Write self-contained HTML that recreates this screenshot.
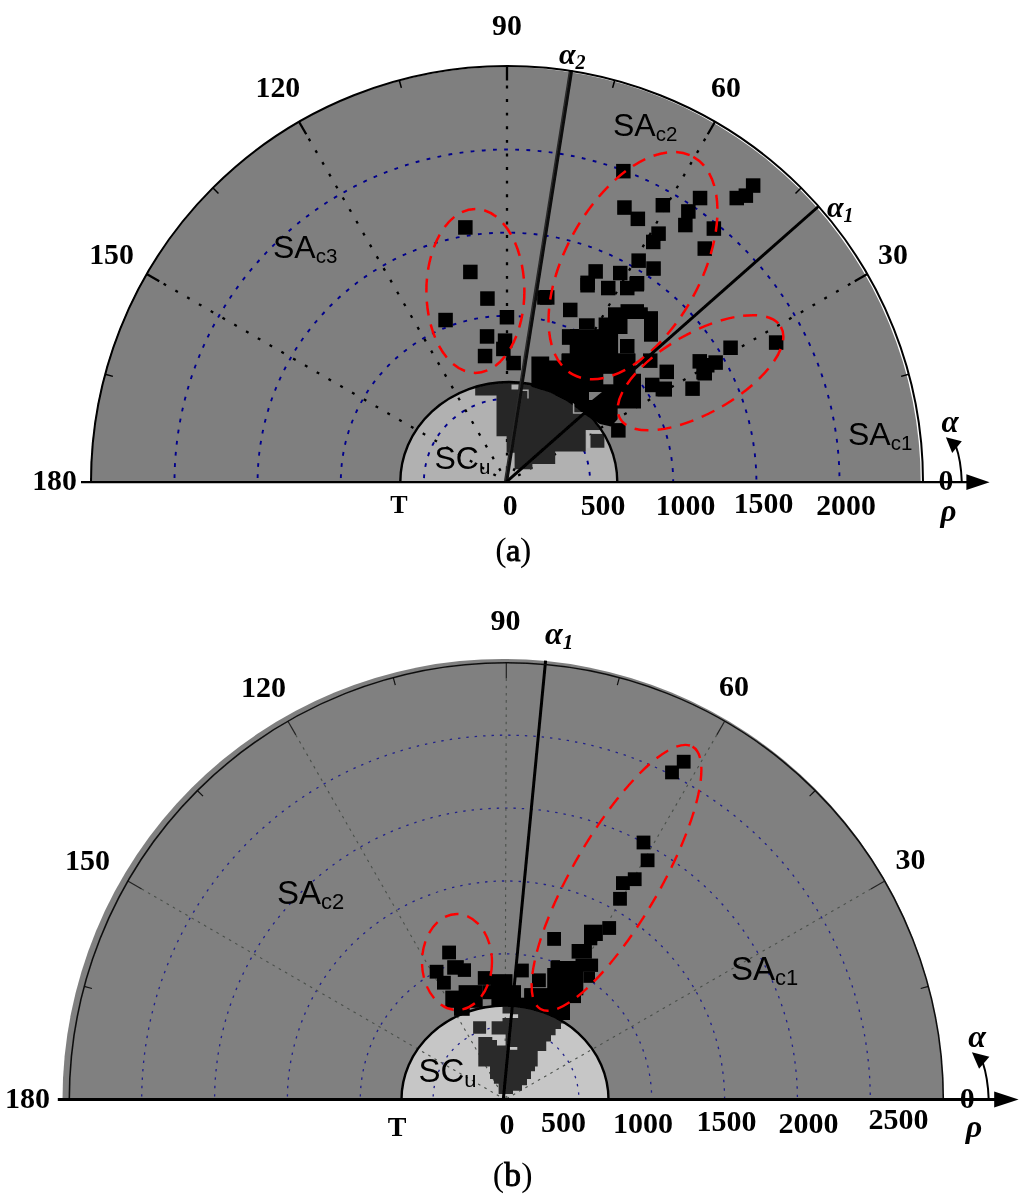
<!DOCTYPE html>
<html><head><meta charset="utf-8"><title>Polar plots</title>
<style>
html,body{margin:0;padding:0;background:#fff;}
body{width:1024px;height:1200px;overflow:hidden;}
svg{display:block;}
.tb{font-family:"Liberation Serif","Times New Roman",serif;font-weight:bold;fill:#000;}
.tbi{font-family:"Liberation Serif","Times New Roman",serif;font-weight:bold;font-style:italic;fill:#000;}
.cap{font-family:"Liberation Serif","Times New Roman",serif;fill:#000;}
.ar{font-family:"Liberation Sans",Arial,sans-serif;fill:#000;}
</style></head><body>
<svg width="1024" height="1200" viewBox="0 0 1024 1200">
<defs><filter id="soft" x="0" y="0" width="1024" height="1200" filterUnits="userSpaceOnUse"><feGaussianBlur stdDeviation="0.45"/></filter></defs>
<rect width="1024" height="1200" fill="#fff"/>
<g filter="url(#soft)">

<g id="plotA">
<path d="M90.3,482.0 A415.2,415.2 0 0 1 920.7,482.0 Z" fill="#7f7f7f"/>
<path d="M400.3,482.0 A108.5,100.0 0 0 1 617.3,482.0 Z" fill="#b1b1b1"/>
<clipPath id="clipA"><path d="M400.3,482.0 A108.5,100.0 0 0 1 617.3,482.0 Z"/></clipPath>
<path d="M423.9,482.0 A83.1,83.1 0 0 1 590.1,482.0" fill="none" stroke="#00008b" stroke-width="1.9" stroke-dasharray="3.8 7.4" stroke-dashoffset="-4"/>
<path d="M340.8,482.0 A166.2,166.2 0 0 1 673.2,482.0" fill="none" stroke="#00008b" stroke-width="1.9" stroke-dasharray="3.8 7.4" stroke-dashoffset="-4"/>
<path d="M257.6,482.0 A249.4,249.4 0 0 1 756.4,482.0" fill="none" stroke="#00008b" stroke-width="1.9" stroke-dasharray="3.8 7.4" stroke-dashoffset="-4"/>
<path d="M174.5,482.0 A332.5,332.5 0 0 1 839.5,482.0" fill="none" stroke="#00008b" stroke-width="1.9" stroke-dasharray="3.8 7.4" stroke-dashoffset="-4"/>
<line x1="867.3" y1="274.0" x2="507.0" y2="482.0" stroke="#000" stroke-width="2.3" stroke-dasharray="14.5 5 2.9 10.7 2.9 10.7 2.9 10.7 2.9 10.7 2.9 10.7 2.9 10.7 2.9 10.7 2.9 10.7 2.9 10.7 2.9 10.7 2.9 10.7 2.9 10.7 2.9 10.7 2.9 10.7 2.9 10.7 2.9 10.7 2.9 10.7 2.9 10.7 2.9 10.7 2.9 10.7 2.9 10.7 2.9 10.7 2.9 10.7 2.9 10.7 2.9 10.7 2.9 10.7 2.9 10.7 2.9 10.7 2.9 10.7 2.9 10.7 3.2 1000"/>
<line x1="715.0" y1="121.7" x2="507.0" y2="482.0" stroke="#000" stroke-width="2.3" stroke-dasharray="14.5 5 2.9 10.7 2.9 10.7 2.9 10.7 2.9 10.7 2.9 10.7 2.9 10.7 2.9 10.7 2.9 10.7 2.9 10.7 2.9 10.7 2.9 10.7 2.9 10.7 2.9 10.7 2.9 10.7 2.9 10.7 2.9 10.7 2.9 10.7 2.9 10.7 2.9 10.7 2.9 10.7 2.9 10.7 2.9 10.7 2.9 10.7 2.9 10.7 2.9 10.7 2.9 10.7 2.9 10.7 2.9 10.7 2.9 10.7 2.9 10.7 3.2 1000"/>
<line x1="507.0" y1="66.0" x2="507.0" y2="482.0" stroke="#000" stroke-width="2.3" stroke-dasharray="14.5 5 2.9 10.7 2.9 10.7 2.9 10.7 2.9 10.7 2.9 10.7 2.9 10.7 2.9 10.7 2.9 10.7 2.9 10.7 2.9 10.7 2.9 10.7 2.9 10.7 2.9 10.7 2.9 10.7 2.9 10.7 2.9 10.7 2.9 10.7 2.9 10.7 2.9 10.7 2.9 10.7 2.9 10.7 2.9 10.7 2.9 10.7 2.9 10.7 2.9 10.7 2.9 10.7 2.9 10.7 2.9 10.7 2.9 10.7 2.9 10.7 3.2 1000"/>
<line x1="299.0" y1="121.7" x2="507.0" y2="482.0" stroke="#000" stroke-width="2.3" stroke-dasharray="14.5 5 2.9 10.7 2.9 10.7 2.9 10.7 2.9 10.7 2.9 10.7 2.9 10.7 2.9 10.7 2.9 10.7 2.9 10.7 2.9 10.7 2.9 10.7 2.9 10.7 2.9 10.7 2.9 10.7 2.9 10.7 2.9 10.7 2.9 10.7 2.9 10.7 2.9 10.7 2.9 10.7 2.9 10.7 2.9 10.7 2.9 10.7 2.9 10.7 2.9 10.7 2.9 10.7 2.9 10.7 2.9 10.7 2.9 10.7 2.9 10.7 3.2 1000"/>
<line x1="146.7" y1="274.0" x2="507.0" y2="482.0" stroke="#000" stroke-width="2.3" stroke-dasharray="14.5 5 2.9 10.7 2.9 10.7 2.9 10.7 2.9 10.7 2.9 10.7 2.9 10.7 2.9 10.7 2.9 10.7 2.9 10.7 2.9 10.7 2.9 10.7 2.9 10.7 2.9 10.7 2.9 10.7 2.9 10.7 2.9 10.7 2.9 10.7 2.9 10.7 2.9 10.7 2.9 10.7 2.9 10.7 2.9 10.7 2.9 10.7 2.9 10.7 2.9 10.7 2.9 10.7 2.9 10.7 2.9 10.7 2.9 10.7 2.9 10.7 3.2 1000"/>
<line x1="908.8" y1="374.3" x2="901.1" y2="376.4" stroke="#000" stroke-width="1.5"/>
<line x1="801.2" y1="187.8" x2="795.5" y2="193.5" stroke="#000" stroke-width="1.5"/>
<line x1="614.7" y1="80.2" x2="612.6" y2="87.9" stroke="#000" stroke-width="1.5"/>
<line x1="399.3" y1="80.2" x2="401.4" y2="87.9" stroke="#000" stroke-width="1.5"/>
<line x1="212.8" y1="187.8" x2="218.5" y2="193.5" stroke="#000" stroke-width="1.5"/>
<line x1="105.2" y1="374.3" x2="112.9" y2="376.4" stroke="#000" stroke-width="1.5"/>
<g clip-path="url(#clipA)">
<polygon points="475.2,380 475.2,395.6 496.5,395.6 496.5,436.3 506.6,436.3 506.6,452.7 514.6,452.7 514.6,469.2 532.4,469.2 532.4,464.1 555.2,464.1 555.2,451.4 585.7,451.4 585.7,433.8 604.4,433.8 604.4,447.7 590.5,447.7 590.5,433.8 585.7,433.8 585.7,430 630,430 630,380" fill="#262626"/>
<rect x="586.2" y="431.2" width="18" height="2.4" fill="#b8b8b8"/>
<rect x="587" y="431.2" width="2.6" height="17" fill="#b8b8b8"/>
<rect x="511.5" y="384.5" width="7" height="5" fill="#b0b0b0"/>
<path d="M519,390.2 H528 V398.5" fill="none" stroke="#a8a8a8" stroke-width="1.4"/>
</g>
<rect x="458.1" y="220.2" width="14.5" height="14.5" fill="#000"/>
<rect x="463.1" y="264.7" width="14.5" height="14.5" fill="#000"/>
<rect x="480.2" y="291.3" width="14.5" height="14.5" fill="#000"/>
<rect x="438.3" y="312.8" width="14.5" height="14.5" fill="#000"/>
<rect x="499.7" y="310.0" width="14.5" height="14.5" fill="#000"/>
<rect x="479.8" y="329.2" width="14.5" height="14.5" fill="#000"/>
<rect x="497.8" y="333.4" width="14.5" height="14.5" fill="#000"/>
<rect x="496.1" y="341.7" width="14.5" height="14.5" fill="#000"/>
<rect x="477.8" y="348.8" width="14.5" height="14.5" fill="#000"/>
<rect x="506.4" y="355.8" width="14.5" height="14.5" fill="#000"/>
<rect x="537.2" y="290.2" width="14.5" height="14.5" fill="#000"/>
<rect x="563.0" y="302.7" width="14.5" height="14.5" fill="#000"/>
<rect x="616.1" y="163.9" width="14.5" height="14.5" fill="#000"/>
<rect x="617.2" y="200.3" width="14.5" height="14.5" fill="#000"/>
<rect x="630.6" y="211.6" width="14.5" height="14.5" fill="#000"/>
<rect x="655.6" y="198.0" width="14.5" height="14.5" fill="#000"/>
<rect x="651.3" y="226.4" width="14.5" height="14.5" fill="#000"/>
<rect x="646.0" y="234.7" width="14.5" height="14.5" fill="#000"/>
<rect x="681.1" y="204.2" width="14.5" height="14.5" fill="#000"/>
<rect x="678.1" y="217.8" width="14.5" height="14.5" fill="#000"/>
<rect x="692.8" y="190.8" width="14.5" height="14.5" fill="#000"/>
<rect x="697.5" y="241.3" width="14.5" height="14.5" fill="#000"/>
<rect x="631.4" y="253.4" width="14.5" height="14.5" fill="#000"/>
<rect x="646.3" y="261.3" width="14.5" height="14.5" fill="#000"/>
<rect x="613.0" y="265.8" width="14.5" height="14.5" fill="#000"/>
<rect x="588.4" y="264.2" width="14.5" height="14.5" fill="#000"/>
<rect x="580.3" y="275.6" width="14.5" height="14.5" fill="#000"/>
<rect x="629.8" y="276.0" width="14.5" height="14.5" fill="#000"/>
<rect x="706.6" y="221.3" width="14.5" height="14.5" fill="#000"/>
<rect x="745.9" y="178.3" width="14.5" height="14.5" fill="#000"/>
<rect x="738.6" y="188.4" width="14.5" height="14.5" fill="#000"/>
<rect x="729.5" y="190.8" width="14.5" height="14.5" fill="#000"/>
<rect x="768.9" y="335.3" width="14.5" height="14.5" fill="#000"/>
<rect x="723.3" y="340.5" width="14.5" height="14.5" fill="#000"/>
<rect x="692.5" y="354.1" width="14.5" height="14.5" fill="#000"/>
<rect x="708.4" y="355.3" width="14.5" height="14.5" fill="#000"/>
<rect x="696.3" y="365.0" width="14.5" height="14.5" fill="#000"/>
<rect x="700.0" y="358.0" width="14.5" height="14.5" fill="#000"/>
<rect x="685.3" y="381.4" width="14.5" height="14.5" fill="#000"/>
<rect x="659.5" y="364.6" width="14.5" height="14.5" fill="#000"/>
<rect x="657.5" y="381.9" width="14.5" height="14.5" fill="#000"/>
<rect x="601.0" y="280.8" width="14.5" height="14.5" fill="#000"/>
<rect x="620.0" y="280.8" width="14.5" height="14.5" fill="#000"/>
<rect x="629.5" y="277.0" width="14.5" height="14.5" fill="#000"/>
<rect x="580.3" y="278.0" width="14.5" height="14.5" fill="#000"/>
<rect x="645.0" y="377.7" width="14.5" height="14.5" fill="#000"/>
<rect x="611.1" y="423.1" width="14.5" height="14.5" fill="#000"/>
<rect x="643.0" y="353.4" width="14.5" height="14.5" fill="#000"/>
<rect x="620.0" y="339.0" width="14.5" height="14.5" fill="#000"/>
<rect x="697.5" y="366.0" width="14.5" height="14.5" fill="#000"/>
<rect x="540.0" y="290.2" width="14.5" height="14.5" fill="#000"/>
<polygon points="531.4,356.4 549.2,356.4 549.2,360.5 561.5,360.5 561.5,353.7 635.3,353.7 635.3,373.8 641,373.8 641,408.4 617.6,408.4 617.6,419.3 611,426.5 600,424 584.5,414.5 577.5,408.7 565.8,400.5 549.4,392.3 531.4,386.8" fill="#000"/>
<rect x="561.9" y="329.2" width="17.1" height="15.6" fill="#000"/>
<rect x="579.0" y="318.3" width="15.7" height="10.9" fill="#000"/>
<rect x="569.7" y="329.2" width="48.4" height="25.8" fill="#000"/>
<rect x="598.6" y="317.5" width="28.9" height="16.5" fill="#000"/>
<rect x="608.0" y="307.3" width="39.8" height="11.7" fill="#000"/>
<rect x="620.5" y="304.2" width="23.5" height="7.0" fill="#000"/>
<rect x="644.0" y="311.2" width="14.0" height="30.5" fill="#000"/>
<rect x="561.9" y="353.4" width="50.0" height="23.6" fill="#000"/>
<rect x="614.2" y="353.4" width="21.1" height="20.4" fill="#000"/>
<rect x="655.6" y="381.6" width="16.4" height="14.8" fill="#000"/>
<rect x="603.3" y="373.8" width="10" height="10.5" fill="#7f7f7f"/>
<polygon points="589,392 602,392 592,400 589,400" fill="#7f7f7f"/>
<path d="M573.6,402.5 V413 H583" fill="none" stroke="#a0a0a0" stroke-width="1.5"/>
<path d="M400.3,482.0 A108.5,100.0 0 0 1 617.3,482.0" fill="none" stroke="#000" stroke-width="2.4"/>
<ellipse cx="475.4" cy="290.9" rx="49" ry="82" stroke="#ff0000" stroke-width="2.5" fill="none" stroke-dasharray="14 9"/>
<ellipse cx="0" cy="0" rx="124.4" ry="67.6" transform="translate(633,265.6) rotate(-61)" stroke="#ff0000" stroke-width="2.5" fill="none" stroke-dasharray="14 9"/>
<ellipse cx="0" cy="0" rx="92.6" ry="40" transform="translate(700.5,372.75) rotate(-29.7)" stroke="#ff0000" stroke-width="2.5" fill="none" stroke-dasharray="14 9"/>
<line x1="506.4" y1="482" x2="571.5" y2="70.3" stroke="#0a0a0a" stroke-width="3.4"/>
<line x1="504.6" y1="482" x2="569.7" y2="70.3" stroke="#2a2a2a" stroke-width="1.6"/>
<line x1="506.4" y1="482" x2="818.4" y2="206.5" stroke="#000" stroke-width="3"/>
<path d="M91.0,482.0 A416.0,416.0 0 0 1 923.0,482.0" fill="none" stroke="#000" stroke-width="2"/>
<line x1="81" y1="482.2" x2="968" y2="482.2" stroke="#000" stroke-width="2.2"/>
<polygon points="966.4,474.3 989.6,482.2 966.4,490.1" fill="#000"/>
<path d="M961.8,482 Q961,460 955.8,446" fill="none" stroke="#000" stroke-width="2"/>
<polygon points="945.9,437.2 961.8,441.3 952.2,453" fill="#000"/>
<text x="507" y="35" class="tb" font-size="29.8" text-anchor="middle" >90</text>
<text x="277.9" y="97.2" class="tb" font-size="29.8" text-anchor="middle" >120</text>
<text x="726" y="97" class="tb" font-size="29.8" text-anchor="middle" >60</text>
<text x="111.5" y="264" class="tb" font-size="29.8" text-anchor="middle" >150</text>
<text x="893" y="264" class="tb" font-size="29.8" text-anchor="middle" >30</text>
<text x="54.5" y="490" class="tb" font-size="29.8" text-anchor="middle" >180</text>
<text x="946" y="490" class="tb" font-size="29.8" text-anchor="middle" >0</text>
<text x="399" y="513" class="tb" font-size="26" text-anchor="middle" >T</text>
<text x="510.3" y="515" class="tb" font-size="29.8" text-anchor="middle" >0</text>
<text x="603" y="515" class="tb" font-size="29.8" text-anchor="middle" >500</text>
<text x="685.5" y="515" class="tb" font-size="29.8" text-anchor="middle" >1000</text>
<text x="763.5" y="513" class="tb" font-size="29.8" text-anchor="middle" >1500</text>
<text x="846" y="515" class="tb" font-size="29.8" text-anchor="middle" >2000</text>
<text x="950" y="432" class="tbi" font-size="31" text-anchor="middle" >α</text>
<text x="948.5" y="521" class="tbi" font-size="31" text-anchor="middle" >ρ</text>
<text x="827" y="217" class="tbi" font-size="30">α<tspan font-size="20" dy="5">1</tspan></text>
<text x="559" y="63.5" class="tbi" font-size="30">α<tspan font-size="20" dy="5">2</tspan></text>
<text x="273" y="258.2" class="ar" font-size="32">SA<tspan font-size="20.5" dy="5">c3</tspan></text>
<text x="613" y="136" class="ar" font-size="32">SA<tspan font-size="20.5" dy="5">c2</tspan></text>
<text x="848" y="444.5" class="ar" font-size="32">SA<tspan font-size="20.5" dy="5">c1</tspan></text>
<text x="434.5" y="468.7" class="ar" font-size="32">SC<tspan font-size="20.5" dy="5">u</tspan></text>
<text x="513" y="561.3" class="cap" font-size="34" text-anchor="middle" letter-spacing="-0.5">(<tspan font-size="32.5" stroke="#000" stroke-width="0.9">a</tspan>)</text>
</g>
<g id="plotB">
<path d="M62.5,1099.5 A440.5,440.5 0 0 1 943.5,1099.5 Z" fill="#808080" transform="translate(0,0)"/>
<path d="M401.5,1099.5 A103.5,94.0 0 0 1 608.5,1099.5 Z" fill="#c6c6c6"/>
<clipPath id="clipB"><path d="M401.5,1099.5 A103.5,94.0 0 0 1 608.5,1099.5 Z"/></clipPath>
<path d="M433.1,1099.5 A72.9,72.9 0 0 1 578.9,1099.5" fill="none" stroke="#20208a" stroke-width="1.3" stroke-dasharray="2.4 6" stroke-dashoffset="-3"/>
<path d="M360.3,1099.5 A145.7,145.7 0 0 1 651.7,1099.5" fill="none" stroke="#20208a" stroke-width="1.3" stroke-dasharray="2.4 6" stroke-dashoffset="-3"/>
<path d="M287.4,1099.5 A218.6,218.6 0 0 1 724.6,1099.5" fill="none" stroke="#20208a" stroke-width="1.3" stroke-dasharray="2.4 6" stroke-dashoffset="-3"/>
<path d="M214.60000000000002,1099.5 A291.4,291.4 0 0 1 797.4,1099.5" fill="none" stroke="#20208a" stroke-width="1.3" stroke-dasharray="2.4 6" stroke-dashoffset="-3"/>
<path d="M141.7,1099.5 A364.3,364.3 0 0 1 870.3,1099.5" fill="none" stroke="#20208a" stroke-width="1.3" stroke-dasharray="2.4 6" stroke-dashoffset="-3"/>
<line x1="884.8" y1="881.0" x2="870.9" y2="889.0" stroke="#222" stroke-width="1.2"/>
<line x1="870.9" y1="889.0" x2="505.0" y2="1099.5" stroke="#4a4f4a" stroke-width="1.1" stroke-dasharray="2.6 4.6"/>
<line x1="724.8" y1="721.0" x2="716.8" y2="734.9" stroke="#222" stroke-width="1.2"/>
<line x1="716.8" y1="734.9" x2="505.0" y2="1099.5" stroke="#4a4f4a" stroke-width="1.1" stroke-dasharray="2.6 4.6"/>
<line x1="506.3" y1="662.5" x2="506.3" y2="678.5" stroke="#222" stroke-width="1.2"/>
<line x1="506.3" y1="678.5" x2="505.0" y2="1099.5" stroke="#4a4f4a" stroke-width="1.1" stroke-dasharray="2.6 4.6"/>
<line x1="287.8" y1="721.0" x2="295.8" y2="734.9" stroke="#222" stroke-width="1.2"/>
<line x1="295.8" y1="734.9" x2="505.0" y2="1099.5" stroke="#4a4f4a" stroke-width="1.1" stroke-dasharray="2.6 4.6"/>
<line x1="127.8" y1="881.0" x2="141.7" y2="889.0" stroke="#222" stroke-width="1.2"/>
<line x1="141.7" y1="889.0" x2="505.0" y2="1099.5" stroke="#4a4f4a" stroke-width="1.1" stroke-dasharray="2.6 4.6"/>
<line x1="928.4" y1="986.4" x2="920.7" y2="988.5" stroke="#111" stroke-width="1.2"/>
<line x1="815.3" y1="790.5" x2="809.6" y2="796.2" stroke="#111" stroke-width="1.2"/>
<line x1="619.4" y1="677.4" x2="617.3" y2="685.1" stroke="#111" stroke-width="1.2"/>
<line x1="393.2" y1="677.4" x2="395.3" y2="685.1" stroke="#111" stroke-width="1.2"/>
<line x1="197.3" y1="790.5" x2="203.0" y2="796.2" stroke="#111" stroke-width="1.2"/>
<line x1="84.2" y1="986.4" x2="91.9" y2="988.5" stroke="#111" stroke-width="1.2"/>
<g clip-path="url(#clipB)">
<polygon points="502.5,1000 575,1000 575,1023.6 561,1023.6 561,1029 555.6,1029 555.6,1035.3 551,1035.3 551,1041.6 546.25,1041.6 546.25,1051 537.7,1051 537.7,1066.6 535,1066.6 535,1071.25 531,1071.25 531,1079 527,1079 527,1085.3 522,1085.3 522,1090.8 513,1090.8 513,1093.9 498.6,1093.9 498.6,1083.75 493.9,1083.75 493.9,1079 490,1079 490,1066.6 478.3,1066.6 478.3,1036.9 492.3,1036.9 492.3,1040 497,1040 497,1045.5 505.6,1045.5 505.6,1034.5 491.6,1034.5 491.6,1021.25 502.5,1021.25 502.5,1018.1 518.1,1018.1 518.1,1014.2 510.3,1014.2 510.3,1013.4 502.5,1013.4" fill="#2c2c2c"/>
<rect x="473.1" y="1021.25" width="13" height="12.5" fill="#2c2c2c"/>
<rect x="510" y="1047" width="7.3" height="2.8" fill="#c6c6c6"/>
</g>
<rect x="442.2" y="945.6" width="13.8" height="13.8" fill="#000"/>
<rect x="429.7" y="964.8" width="13.8" height="13.8" fill="#000"/>
<rect x="437.0" y="975.8" width="13.8" height="13.8" fill="#000"/>
<rect x="477.8" y="971.1" width="13.8" height="13.8" fill="#000"/>
<rect x="547.2" y="932.0" width="13.8" height="13.8" fill="#000"/>
<rect x="676.8" y="754.8" width="13.8" height="13.8" fill="#000"/>
<rect x="665.1" y="765.5" width="13.8" height="13.8" fill="#000"/>
<rect x="636.6" y="835.6" width="13.8" height="13.8" fill="#000"/>
<rect x="640.7" y="853.4" width="13.8" height="13.8" fill="#000"/>
<rect x="627.8" y="872.3" width="13.8" height="13.8" fill="#000"/>
<rect x="616.0" y="876.2" width="13.8" height="13.8" fill="#000"/>
<rect x="613.1" y="891.9" width="13.8" height="13.8" fill="#000"/>
<rect x="602.3" y="921.1" width="13.8" height="13.8" fill="#000"/>
<rect x="532.0" y="973.4" width="13.8" height="13.8" fill="#000"/>
<rect x="515.0" y="963.6" width="13.8" height="13.8" fill="#000"/>
<clipPath id="outB"><path clip-rule="evenodd" d="M0,600 H1024 V1200 H0 Z M401.5,1099.5 A103.5,94.0 0 0 1 608.5,1099.5 Z"/></clipPath>
<g clip-path="url(#outB)">
<rect x="447.2" y="960.2" width="16.6" height="14.5" fill="#000"/>
<rect x="457.8" y="963.3" width="13.2" height="13.6" fill="#000"/>
<rect x="445.3" y="990.6" width="14.1" height="17.2" fill="#000"/>
<rect x="458.6" y="985.2" width="24.2" height="22.6" fill="#000"/>
<rect x="490.6" y="974.2" width="21.9" height="33.6" fill="#000"/>
<rect x="482.8" y="985.2" width="38.2" height="22.6" fill="#000"/>
<rect x="524.2" y="988.3" width="35.8" height="21.1" fill="#000"/>
<rect x="547.7" y="968.0" width="12.3" height="21.0" fill="#000"/>
<rect x="551.2" y="960.2" width="8.8" height="8.5" fill="#000"/>
<rect x="584.0" y="924.7" width="18.8" height="16.3" fill="#000"/>
<rect x="584.0" y="941.0" width="13.3" height="4.3" fill="#000"/>
<rect x="571.6" y="944.0" width="20.3" height="14.6" fill="#000"/>
<rect x="575.5" y="958.6" width="22.6" height="13.3" fill="#000"/>
<rect x="550.5" y="961.0" width="32.8" height="34.3" fill="#000"/>
<rect x="583.3" y="971.9" width="11.7" height="10.9" fill="#000"/>
<rect x="547.3" y="968.0" width="3.7" height="25.8" fill="#000"/>
<rect x="524.7" y="988.3" width="56.3" height="14.8" fill="#000"/>
<rect x="520.0" y="997.7" width="50.0" height="22.3" fill="#000"/>
<rect x="482.8" y="1005.0" width="47.2" height="7.0" fill="#000"/>
</g>
<rect x="454.0" y="1005.6" width="15.7" height="10.2" fill="#000"/>
<rect x="482.8" y="999.2" width="8.6" height="7" fill="#808080"/>
<path d="M401.5,1099.5 A103.5,94.0 0 0 1 608.5,1099.5" fill="none" stroke="#000" stroke-width="2.4"/>
<ellipse cx="457" cy="962" rx="35" ry="48" stroke="#ff0000" stroke-width="2.4" fill="none" stroke-dasharray="14 9"/>
<ellipse cx="0" cy="0" rx="151.6" ry="43.6" transform="translate(616.5,877.8) rotate(-59.9)" stroke="#ff0000" stroke-width="2.4" fill="none" stroke-dasharray="14 9"/>
<line x1="503.3" y1="1099.5" x2="545.6" y2="660.6" stroke="#000" stroke-width="3"/>
<path d="M69.30000000000001,1099.5 A437.0,437.0 0 0 1 943.3,1099.5" fill="none" stroke="#111" stroke-width="1.6"/>
<line x1="57.8" y1="1099.5" x2="996" y2="1099.5" stroke="#000" stroke-width="3"/>
<polygon points="994.2,1091.5 1018.6,1099.5 994.2,1107.5" fill="#000"/>
<path d="M988.7,1099.5 Q988,1078 982.6,1062" fill="none" stroke="#000" stroke-width="2"/>
<polygon points="971.9,1052.2 989.4,1056.7 979.1,1068.8" fill="#000"/>
<text x="505.5" y="629.5" class="tb" font-size="30" text-anchor="middle" >90</text>
<text x="263.5" y="697" class="tb" font-size="30" text-anchor="middle" >120</text>
<text x="734" y="696" class="tb" font-size="30" text-anchor="middle" >60</text>
<text x="87.5" y="870" class="tb" font-size="30" text-anchor="middle" >150</text>
<text x="910.5" y="868.5" class="tb" font-size="30" text-anchor="middle" >30</text>
<text x="27.5" y="1108" class="tb" font-size="30" text-anchor="middle" >180</text>
<text x="967.3" y="1108" class="tb" font-size="30" text-anchor="middle" >0</text>
<text x="397" y="1135.5" class="tb" font-size="28" text-anchor="middle" >T</text>
<text x="507" y="1134" class="tb" font-size="30" text-anchor="middle" >0</text>
<text x="563.5" y="1131.5" class="tb" font-size="30" text-anchor="middle" >500</text>
<text x="643" y="1133" class="tb" font-size="30" text-anchor="middle" >1000</text>
<text x="726.5" y="1131" class="tb" font-size="30" text-anchor="middle" >1500</text>
<text x="808.5" y="1133" class="tb" font-size="30" text-anchor="middle" >2000</text>
<text x="898.5" y="1129" class="tb" font-size="30" text-anchor="middle" >2500</text>
<text x="977" y="1046.5" class="tbi" font-size="32" text-anchor="middle" >α</text>
<text x="974" y="1137" class="tbi" font-size="32" text-anchor="middle" >ρ</text>
<text x="545" y="644" class="tbi" font-size="32">α<tspan font-size="21" dy="5">1</tspan></text>
<text x="277" y="904" class="ar" font-size="33">SA<tspan font-size="22" dy="5">c2</tspan></text>
<text x="731" y="980" class="ar" font-size="33">SA<tspan font-size="22" dy="5">c1</tspan></text>
<text x="418.5" y="1082" class="ar" font-size="33">SC<tspan font-size="22" dy="5">u</tspan></text>
<text x="512.8" y="1185.7" class="cap" font-size="34" text-anchor="middle" letter-spacing="0.3">(<tspan font-size="33.5" stroke="#000" stroke-width="0.9">b</tspan>)</text>
</g>
</g></svg></body></html>
